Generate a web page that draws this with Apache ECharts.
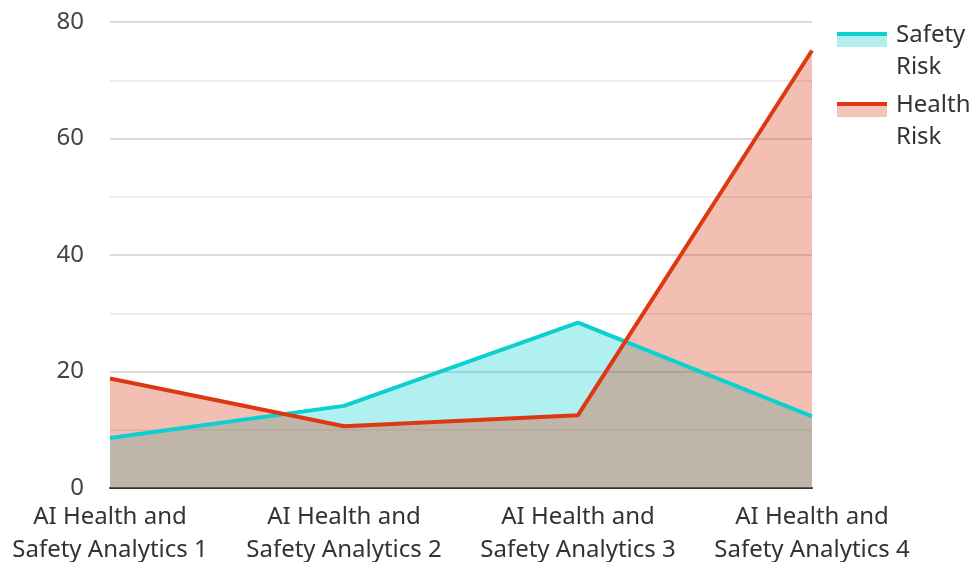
<!DOCTYPE html>
<html>
<head>
<meta charset="utf-8">
<script src="https://cdn.jsdelivr.net/npm/echarts@6/dist/echarts.min.js"></script>
<style>
  html, body { margin: 0; padding: 0; background: #fff; }
  #main { width: 975px; height: 562px; }
</style>
</head>
<body>
<div id="main"></div>
<script>
let categories = ['AI Health and Safety Analytics 1', 'AI Health and Safety Analytics 2',
    'AI Health and Safety Analytics 3', 'AI Health and Safety Analytics 4'];
let safetyRisk = [8.6, 14.1, 28.4, 12.3];
let healthRisk = [18.8, 10.6, 12.5, 75.1];
let seriesNames = ['Safety Risk', 'Health Risk'];
let lineColors = ['#0ccfcf', '#dc3912'];
let fillColors = ['#b2efec', '#f3c4b8'];

let chartDom = document.getElementById('main');
let myChart = echarts.init(chartDom);
let font = 'Noto Sans';

// legend swatch: thick line on top, light area under it, aligned with first text line
function legendIcon(i) {
    return {
        type: 'linear', x: 0, y: 0, x2: 0, y2: 1,
        colorStops: [
            { offset: 0, color: 'rgba(255,255,255,0)' },
            { offset: 0.2, color: 'rgba(255,255,255,0)' },
            { offset: 0.2, color: lineColors[i] },
            { offset: 0.26, color: lineColors[i] },
            { offset: 0.26, color: fillColors[i] },
            { offset: 0.43, color: fillColors[i] },
            { offset: 0.43, color: 'rgba(255,255,255,0)' },
            { offset: 1, color: 'rgba(255,255,255,0)' }
        ]
    };
}

let option = {
    animation: false,
    grid: { left: 110, right: 163, top: 22, bottom: 74, outerBoundsMode: 'none', containLabel: false },
    legend: {
        orient: 'vertical',
        left: 837,
        top: 19,
        padding: 0,
        icon: 'rect',
        itemWidth: 50,
        itemHeight: 64,
        itemGap: 6,
        textStyle: { fontFamily: font, fontSize: 24, color: '#333', lineHeight: 32, padding: [0, 0, 0, 4] },
        formatter: function (name) { return name.replace(' ', '\n'); },
        data: seriesNames.map(function (n, i) {
            return { name: n, itemStyle: { color: legendIcon(i) } };
        })
    },
    xAxis: {
        type: 'category',
        data: categories,
        boundaryGap: false,
        axisLine: { lineStyle: { color: '#333', width: 2 } },
        axisTick: { show: false },
        axisLabel: {
            interval: 0,
            fontFamily: font, fontSize: 24, color: '#333', lineHeight: 33, margin: 13,
            formatter: function (v) { return v.replace(' Safety', '\nSafety'); }
        }
    },
    yAxis: {
        type: 'value',
        min: 0, max: 80, interval: 20,
        axisLine: { show: false },
        axisTick: { show: false },
        axisLabel: { fontFamily: font, fontSize: 24, color: '#444', margin: 26 },
        splitLine: { lineStyle: { color: '#cccccc', width: 1.5 } },
        minorTick: { show: false, splitNumber: 2 },
        minorSplitLine: { show: true, lineStyle: { color: '#e6e6e6', width: 1.5 } }
    },
    series: [
        {
            name: seriesNames[0], type: 'line', data: safetyRisk,
            showSymbol: false, symbol: 'none',
            lineStyle: { color: lineColors[0], width: 4 },
            itemStyle: { color: lineColors[0] },
            areaStyle: { color: lineColors[0], opacity: 0.32 }
        },
        {
            name: seriesNames[1], type: 'line', data: healthRisk,
            showSymbol: false, symbol: 'none',
            lineStyle: { color: lineColors[1], width: 4 },
            itemStyle: { color: lineColors[1] },
            areaStyle: { color: lineColors[1], opacity: 0.32 }
        }
    ]
};

myChart.setOption(option);
</script>
</body>
</html>
